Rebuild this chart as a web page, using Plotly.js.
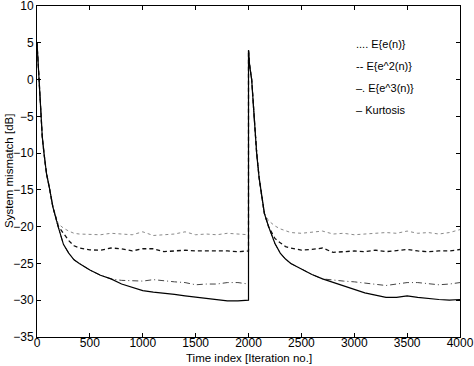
<!DOCTYPE html>
<html>
<head>
<meta charset="utf-8">
<script src="https://cdn.plot.ly/plotly-3.0.1.min.js"></script>
<style>html,body{margin:0;padding:0;background:#fff;}#chart{width:474px;height:366px;}</style>
</head>
<body>
<div id="chart"></div>
<script>
// Time index [iteration no.]
var iterations = [0,10,22,35,50,66,90,117,150,200,250,300,350,400,500,600,700,800,900,1000,1100,1200,1300,1400,1500,1600,1700,1800,1900,2000,
  2000,2010,2030,2052,2077,2100,2118,2150,2190,2250,2300,2350,2400,2500,2600,2700,2800,2900,3000,3100,3200,3300,3400,3500,3600,3700,3800,3900,4000];

// System mismatch [dB]
var mismatchE1 = [5,2.5,0,-5,-7.8,-10,-12.8,-14.7,-17.3,-19.6,-20.2,-20.6,-20.9,-21.0,-21.0,-21.1,-20.9,-21.0,-21.1,-20.7,-21.2,-21.1,-21.0,-20.7,-21.1,-21.0,-21.1,-20.9,-21.0,-21.1,
  4,2,0,-5,-10,-13.3,-15.3,-18.2,-19.2,-19.9,-20.3,-20.6,-20.8,-20.9,-20.8,-20.6,-21.0,-20.9,-21.1,-21.0,-21.0,-20.8,-20.9,-20.6,-20.9,-20.8,-21.0,-20.8,-20.4];

var mismatchE2 = [5,2.5,0,-5,-7.8,-10,-12.8,-14.7,-17.3,-19.9,-20.9,-21.9,-22.6,-22.9,-23.15,-23.2,-22.9,-23.0,-23.3,-23.0,-23.0,-23.4,-23.3,-23.2,-23.3,-23.3,-23.2,-23.3,-23.4,-23.3,
  4,2,0,-5,-10,-13.3,-15.3,-18.2,-20.0,-21.6,-22.2,-22.7,-22.9,-23.2,-23.1,-22.9,-23.5,-23.4,-23.3,-23.4,-23.2,-23.4,-23.2,-23.1,-23.3,-23.4,-23.3,-23.3,-23.1];

var mismatchE3 = [5,2.5,0,-5,-7.8,-10,-12.8,-14.7,-17.3,-20.0,-22.4,-23.6,-24.5,-25.0,-25.9,-26.6,-27.1,-27.3,-27.4,-27.4,-27.2,-27.4,-27.5,-27.6,-27.9,-27.8,-27.8,-27.6,-27.6,-27.8,
  4,2,0,-5,-10,-13.3,-15.3,-18.2,-20.0,-22.3,-23.6,-24.4,-25.0,-25.8,-26.5,-27.1,-27.3,-27.4,-27.5,-27.7,-27.9,-28.0,-27.8,-27.6,-27.6,-27.8,-27.9,-27.8,-27.6];

var mismatchKurt = [5,2.5,0,-5,-7.8,-10,-12.8,-14.7,-17.3,-20.0,-22.4,-23.6,-24.5,-25.0,-25.9,-26.6,-27.1,-27.8,-28.3,-28.7,-28.9,-29.0,-29.2,-29.4,-29.6,-29.8,-29.9,-30.1,-30.1,-30.0,
  4,2,0,-5,-10,-13.3,-15.3,-18.2,-20.0,-22.3,-23.6,-24.4,-25.0,-25.8,-26.5,-27.1,-27.6,-28.1,-28.6,-29.0,-29.3,-29.6,-29.6,-29.4,-29.6,-29.8,-29.9,-30.0,-29.9];

var seriesNames = ['.... E{e(n)}', '-- E{e^2(n)}', '\u2013. E{e^3(n)}', '\u2013 Kurtosis'];
var xTicks = [0,500,1000,1500,2000,2500,3000,3500,4000];
var yTicks = [-35,-30,-25,-20,-15,-10,-5,0,5,10];
var xTitle = 'Time index [Iteration no.]';
var yTitle = 'System mismatch [dB]';

var FONT = 'Liberation Sans, Arial, Helvetica, sans-serif';

var traces = [
  {x: iterations, y: mismatchE1, mode: 'lines', line: {color: '#8a8a8a', width: 1, dash: 'dot'}},
  {x: iterations, y: mismatchE2, mode: 'lines', line: {color: '#111', width: 1.3, dash: '4px,3px'}},
  {x: iterations, y: mismatchE3, mode: 'lines', line: {color: '#444', width: 1, dash: '6px,3px,1px,3px'}},
  {x: iterations, y: mismatchKurt, mode: 'lines', line: {color: '#000', width: 1.2}}
];

var annotations = seriesNames.map(function (t, i) {
  return {text: t, xref: 'paper', yref: 'paper', x: (354 - 37) / 423, y: 1 - ((43.5 + i * 22.3) - 6) / 331,
    xanchor: 'left', yanchor: 'middle', showarrow: false, font: {family: FONT, size: 11, color: '#000'}};
});
annotations.push({text: xTitle, xref: 'paper', yref: 'paper', x: 0.5, y: -(358 - 337) / 331,
  xanchor: 'center', yanchor: 'middle', showarrow: false, font: {family: FONT, size: 11.5, color: '#000'}});
annotations.push({text: yTitle, xref: 'paper', yref: 'paper', x: -(37 - 8.5) / 423, y: 0.5, textangle: -90,
  xanchor: 'center', yanchor: 'middle', showarrow: false, font: {family: FONT, size: 11.5, color: '#000'}});

var axisCommon = {
  showgrid: false, zeroline: false, showline: true, linecolor: '#000', linewidth: 1,
  mirror: 'ticks', ticks: 'inside', ticklen: 4, tickcolor: '#000', tickwidth: 1,
  ticklabeloverflow: 'allow',
  tickfont: {family: FONT, size: 12, color: '#000'}
};

var layout = {
  width: 474, height: 366,
  margin: {l: 37, r: 14, t: 6, b: 29},
  paper_bgcolor: '#fff', plot_bgcolor: '#fff',
  showlegend: false,
  xaxis: Object.assign({}, axisCommon, {range: [0, 4000], tickvals: xTicks, ticklabelstandoff: -5}),
  yaxis: Object.assign({}, axisCommon, {range: [-35, 10], tickvals: yTicks}),
  annotations: annotations
};

Plotly.newPlot('chart', traces, layout, {staticPlot: true, displayModeBar: false});
</script>
</body>
</html>
